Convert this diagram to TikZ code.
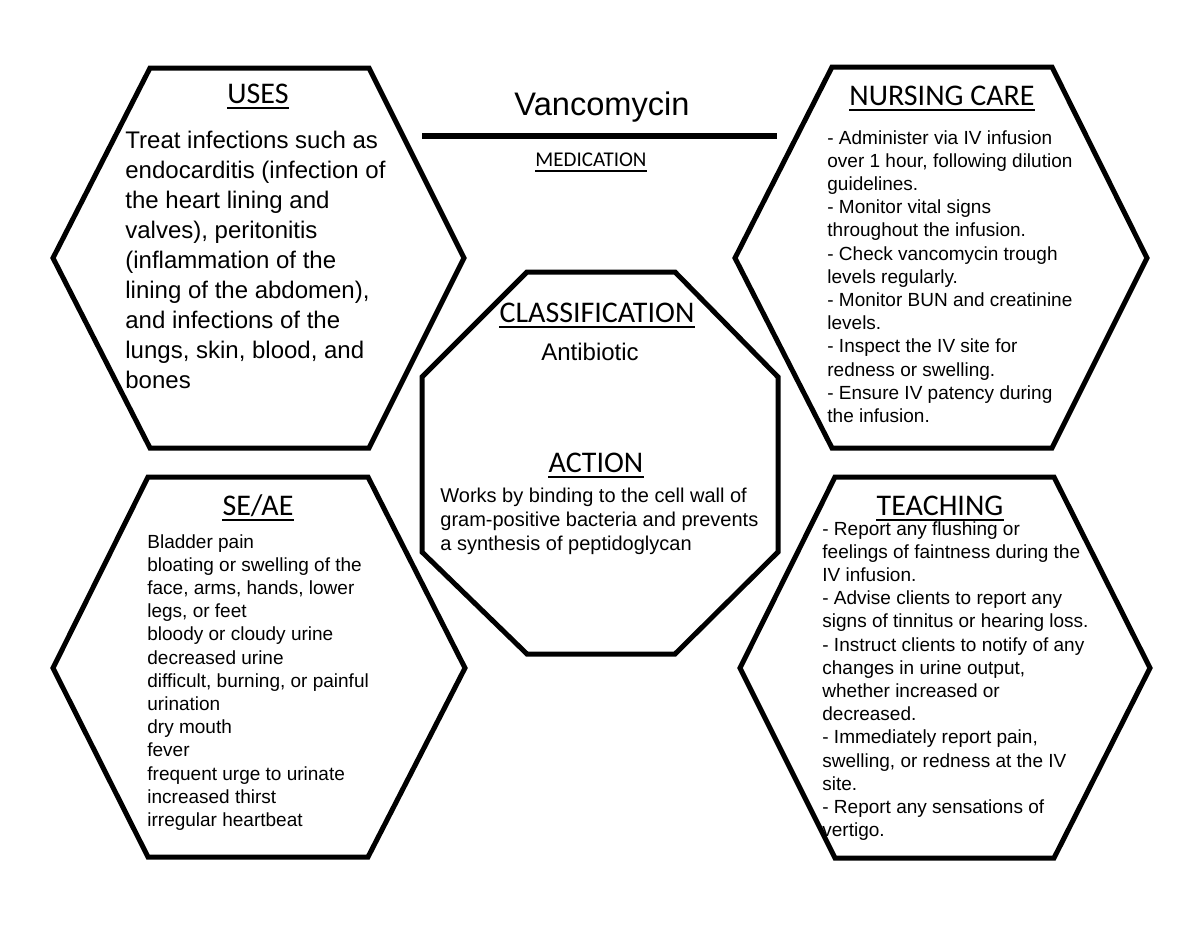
\documentclass[tikz,border=0pt]{standalone}
\usepackage{fontspec}
\setmainfont{Liberation Sans}
\newfontfamily\headfont{Carlito}

\tikzset{
  cell/.style={line width=2.5pt},
  head/.style={font=\headfont\fontsize{15}{18}\selectfont,inner sep=0pt,anchor=base},
  body/.style={font=\fontsize{9.5}{11.6}\selectfont,align=left,anchor=north west,inner sep=0pt},
  uline/.style={line width=1.1pt},
}

\begin{document}
\begin{tikzpicture}[x=0.5pt,y=-0.5pt]
  % page: 1200 x 927 px, y runs downwards
  \useasboundingbox (0,0) rectangle (1200,927);
  % title and rule
  \node[font=\fontsize{16.3}{19}\selectfont,inner sep=0pt,anchor=base] (title) at (602,115) {Vancomycin};
  \draw[line width=3pt] (422,136) -- (777,136);
  \node[head,font=\headfont\fontsize{10.5}{12}\selectfont] (medication) at (591,166) {MEDICATION};

  % USES
  \node[head] (uses) at (258,103) {USES};
  \node[body,font=\fontsize{12}{15}\selectfont] (usesbody) at (125,131)
    {Treat infections such as\\endocarditis (infection of\\the heart lining and\\valves), peritonitis\\(inflammation of the\\lining of the abdomen),\\and infections of the\\lungs, skin, blood, and\\bones};

  % NURSING CARE
  \node[head] (nursing) at (942,105) {NURSING CARE};
  \node[body] (nursingbody) at (827,130)
    {- Administer via IV infusion\\over 1 hour, following dilution\\guidelines.\\- Monitor vital signs\\throughout the infusion.\\- Check vancomycin trough\\levels regularly.\\- Monitor BUN and creatinine\\levels.\\- Inspect the IV site for\\redness or swelling.\\- Ensure IV patency during\\the infusion.};

  % CLASSIFICATION / ACTION
  \node[head] (classif) at (597,322) {CLASSIFICATION};
  \node[font=\fontsize{12}{15}\selectfont,inner sep=0pt,anchor=base] (antibiotic) at (590,360) {Antibiotic};
  \node[head] (action) at (596,472) {ACTION};
  \node[body,font=\fontsize{10}{12}\selectfont] (actionbody) at (440,488)
    {Works by binding to the cell wall of\\gram-positive bacteria and prevents\\a synthesis of peptidoglycan};

  % SE/AE
  \node[head] (seae) at (258,515) {SE/AE};
  \node[body] (seaebody) at (147,534)
    {Bladder pain\\bloating or swelling of the\\face, arms, hands, lower\\legs, or feet\\bloody or cloudy urine\\decreased urine\\difficult, burning, or painful\\urination\\dry mouth\\fever\\frequent urge to urinate\\increased thirst\\irregular heartbeat};

  % TEACHING
  \node[head] (teaching) at (940,515) {TEACHING};
  \node[body] (teachingbody) at (822,521)
    {- Report any flushing or\\feelings of faintness during the\\IV infusion.\\- Advise clients to report any\\signs of tinnitus or hearing loss.\\- Instruct clients to notify of any\\changes in urine output,\\whether increased or\\decreased.\\- Immediately report pain,\\swelling, or redness at the IV\\site.\\- Report any sensations of\\vertigo.};

  % heading underlines
  \foreach \h in {medication,uses,nursing,classif,action,seae,teaching}
    \draw[uline] ([yshift=-2.6pt]\h.base west) -- ([yshift=-2.6pt]\h.base east);

  % outlines
  \draw[cell] (150,68) -- (369,68) -- (464,258) -- (369,448) -- (150,448) -- (53,258) -- cycle;
  \draw[cell] (832,67) -- (1052,67) -- (1147,258) -- (1052,448) -- (832,448) -- (735,258) -- cycle;
  \draw[cell] (148,477) -- (368,477) -- (465,668) -- (368,857) -- (148,857) -- (53,668) -- cycle;
  \draw[cell] (835,477) -- (1054,477) -- (1150,668) -- (1054,858) -- (835,858) -- (740,668) -- cycle;
  \draw[cell] (527,272) -- (675,272) -- (778,377) -- (778,552) -- (675,654) -- (527,654) -- (422,552) -- (422,377) -- cycle;
\end{tikzpicture}
\end{document}
